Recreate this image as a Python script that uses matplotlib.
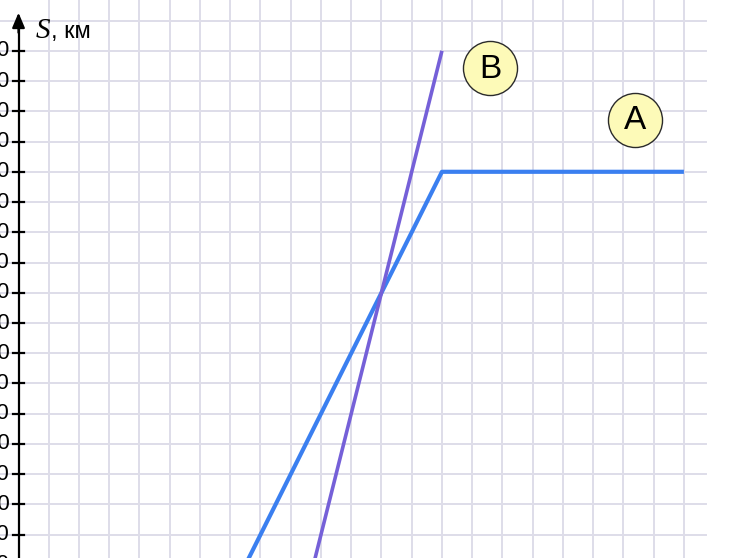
import matplotlib
matplotlib.use('Agg')

import matplotlib.pyplot as plt
import numpy as np

# S(t) graph, cropped view: one grid cell = 1 h along t, 10 km along S
t_a = [7, 14, 22]
s_a = [0, 140, 140]

t_b = [9.5, 14]
s_b = [0, 180]

y_ticks = list(range(10, 190, 10))
y_labels = [str(v) for v in y_ticks]

label_names = ['A', 'B']
label_t = [20.38, 15.59]
label_s = [157.1, 174.2]

# view window (data units)
x_lo, x_hi = -0.612, 24.02
y_lo, y_hi = 12.3, 196.8

grid_col = '#dedde9'
blue = '#3a7ff0'
purple = '#7560d8'

fig = plt.figure(figsize=(7.45, 5.58), dpi=100)
ax = fig.add_axes([0, 0, 1, 1])
ax.set_xlim(x_lo, x_hi)
ax.set_ylim(y_lo, y_hi)
ax.axis('off')

# grid
for gx in range(1, 23):
  ax.plot([gx, gx], [y_lo - 20, y_hi + 20], color=grid_col, lw=1.4, zorder=1)
for gy in range(20, 200, 10):
  ax.plot([x_lo - 1, 22.72], [gy, gy], color=grid_col, lw=1.4, zorder=1)

# S axis with arrow
ax.plot([0, 0], [y_lo - 20, 189.0], color='black', lw=1.6, zorder=4)
ax.annotate('', xy=(0, 192.6), xytext=(0, 186.0), annotation_clip=False,
            arrowprops=dict(arrowstyle='-|>,head_length=0.9,head_width=0.38',
                            color='black', lw=1.6, shrinkA=0, shrinkB=0), zorder=4)
for yt, lab in zip(y_ticks, y_labels):
  ax.plot([-0.19, 0.19], [yt, yt], color='black', lw=1.6, zorder=4)
  ax.text(-0.3, yt, lab, ha='right', va='center', fontsize=16,
          family='Liberation Sans', zorder=4)

ax.text(0.57, 184.2, 'S', fontsize=21, family='Liberation Serif', style='italic',
        ha='left', va='baseline', zorder=4)
ax.text(1.06, 184.2, ', км', fontsize=17, family='Liberation Sans',
        ha='left', va='baseline', zorder=4)

# graphs
ax.plot(t_a, s_a, color=blue, lw=3.0, solid_capstyle='butt', zorder=3)
ax.plot(t_b, s_b, color=purple, lw=2.6, solid_capstyle='butt', zorder=3)

# circle labels
ax.scatter(label_t, label_s, s=1515, facecolor='#fdfab8', edgecolor='#2b2b2b',
           linewidth=1.0, zorder=5)
for nm, lt, ls in zip(label_names, label_t, label_s):
  ax.text(lt, ls - 0.3, nm, ha='center', va='center', fontsize=24,
          family='Liberation Sans', zorder=6)

plt.savefig('out.png', dpi=100)
plt.close()
